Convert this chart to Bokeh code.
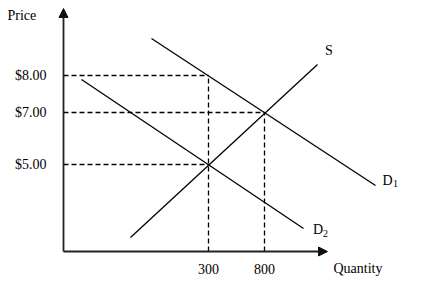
from bokeh.plotting import figure
from bokeh.models import Range1d, Arrow, NormalHead
from bokeh.core.properties import value
from bokeh.embed import file_html
from bokeh.resources import INLINE

# Schematic diagram units (the original chart is a hand-drawn schematic)
price_ticks = [176, 139, 87]
price_labels = ["$8.00", "$7.00", "$5.00"]
qty_ticks = [145, 201]
qty_labels = ["300", "800"]

# guide (dashed) lines: price level -> quantity it reaches
guide_price = [176, 139, 87]
guide_qty = [145, 201, 145]
# vertical guides: quantity -> price level it reaches
vguide_price = [176, 139]

supply_x = [67, 254]
supply_y = [14, 187]
d1_x = [88, 312]
d1_y = [213, 66]
d2_x = [18, 240]
d2_y = [172, 23]

x_axis_end = 264
y_axis_end = 243

FONT = value("Liberation Serif")

p = figure(width=421, height=283, output_backend="svg", toolbar_location=None,
           x_range=Range1d(-63, 358), y_range=Range1d(-32, 251),
           x_axis_type=None, y_axis_type=None, min_border=0)
p.grid.visible = False
p.outline_line_color = None
p.background_fill_color = "white"
p.border_fill_color = "white"

# dashed guides
for pr, q in zip(guide_price, guide_qty):
    p.line([0, q], [pr, pr], line_color="black", line_width=1.3, line_dash="5 3")
for q, pr in zip(qty_ticks, vguide_price):
    p.line([q, q], [0, pr], line_color="black", line_width=1.3, line_dash="5 3")

# curves
for xs, ys in [(supply_x, supply_y), (d1_x, d1_y), (d2_x, d2_y)]:
    p.line(xs, ys, line_color="black", line_width=1.3)

# axes with arrows
p.add_layout(Arrow(end=NormalHead(size=9, fill_color="#111", line_color="#111"),
                   x_start=0, y_start=0, x_end=0, y_end=y_axis_end,
                   line_color="#222", line_width=1.8))
p.add_layout(Arrow(end=NormalHead(size=9, fill_color="#111", line_color="#111"),
                   x_start=0, y_start=0, x_end=x_axis_end, y_end=0,
                   line_color="#222", line_width=1.8))

# tick labels
p.text(x=[-17] * len(price_ticks), y=price_ticks, text=price_labels,
       text_align="right", text_baseline="middle", text_font=FONT,
       text_font_size="14px", text_color="black")
p.text(x=qty_ticks, y=[-17] * len(qty_ticks), text=qty_labels,
       text_align="center", text_baseline="middle", text_font=FONT,
       text_font_size="14px", text_color="black")

# axis titles
p.text(x=[-56], y=[236], text=["Price"], text_align="left", text_baseline="middle",
       text_font=FONT, text_font_size="14px", text_color="black")
p.text(x=[270], y=[-17], text=["Quantity"], text_align="left", text_baseline="middle",
       text_font=FONT, text_font_size="14px", text_color="black")

# curve labels
p.text(x=[265.5], y=[201], text=["S"], text_align="center", text_baseline="middle",
       text_font=FONT, text_font_size="14px", text_color="black")
p.text(x=[324, 254.5], y=[71.5, 22], text=["D", "D"], text_align="center",
       text_baseline="middle", text_font=FONT, text_font_size="14px", text_color="black")
p.text(x=[332, 262], y=[68.5, 18.5], text=["1", "2"], text_align="center",
       text_baseline="middle", text_font=FONT, text_font_size="10px", text_color="black")

open("out.html", "w").write(file_html(p, INLINE))
